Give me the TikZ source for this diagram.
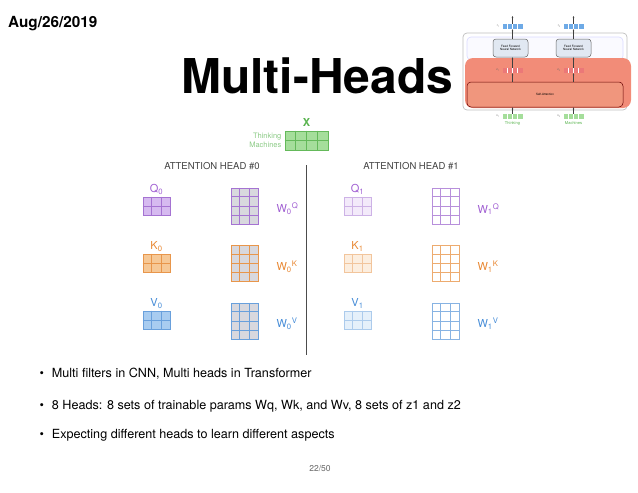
\documentclass[tikz,border=0pt]{standalone}
\usepackage{fontspec}
\setmainfont{TeX Gyre Heros}
\usetikzlibrary{arrows.meta,positioning,calc}

\definecolor{qline}{RGB}{165,115,210}
\definecolor{qfill}{RGB}{214,186,240}
\definecolor{qtext}{RGB}{160,95,210}
\definecolor{kline}{RGB}{232,150,75}
\definecolor{kfill}{RGB}{246,200,150}
\definecolor{ktext}{RGB}{232,135,50}
\definecolor{vline}{RGB}{105,160,220}
\definecolor{vfill}{RGB}{168,204,240}
\definecolor{vtext}{RGB}{70,140,215}
\definecolor{xline}{RGB}{100,185,90}
\definecolor{xfill}{RGB}{165,222,155}
\definecolor{xtext}{RGB}{90,180,80}
\definecolor{wfill}{RGB}{216,216,222}
\definecolor{rblue}{RGB}{110,170,230}
\definecolor{zpink}{RGB}{235,120,120}
\definecolor{redzone}{RGB}{242,140,120}
\definecolor{sabox}{RGB}{240,150,125}
\definecolor{ffnbox}{RGB}{225,232,242}

% inner lines of a matrix node: name, columns, rows, line style
\newcommand{\cellgrid}[4]{%
  \foreach \i in {1,...,#2}{\ifnum\i<#2
    \draw[#4] ($(#1.north west)!\i/#2!(#1.north east)$) -- ($(#1.south west)!\i/#2!(#1.south east)$);\fi}
  \foreach \j in {1,...,#3}{\ifnum\j<#3
    \draw[#4] ($(#1.north west)!\j/#3!(#1.south west)$) -- ($(#1.north east)!\j/#3!(#1.south east)$);\fi}
}

\begin{document}
\begin{tikzpicture}[
  x=1pt, y=-1pt,
  mat/.style={rectangle, inner sep=0pt, line width=0.8pt, minimum width=27pt},
  small/.style={mat, minimum height=18pt},
  big/.style={mat, minimum height=36pt},
  lab/.style={inner sep=1pt, font=\fontsize{11}{12}\selectfont},
  headtitle/.style={font=\fontsize{9.5}{10}\selectfont, text=black!75},
  vec/.style={rectangle, inner sep=0pt, minimum width=20pt, minimum height=5pt},
  tinylab/.style={inner sep=0.5pt, font=\fontsize{3}{3}\selectfont, text=black!60},
  tarrow/.style={-{Stealth[length=2pt, width=1.6pt]}, line width=0.4pt, black!75},
  bullet/.style={anchor=base west, font=\fontsize{12.6}{14}\selectfont},
]
  \useasboundingbox (0,0) rectangle (638,493);

  \node[anchor=base west, inner sep=0pt, font=\fontsize{15.3}{16}\selectfont\bfseries] (date) at (8,27) {Aug/26/2019};
  \node[anchor=base west, inner sep=0pt, font=\fontsize{48}{48}\selectfont\bfseries] (title) at (181,93) {Multi-Heads};

  % encoder thumbnail
  \draw[black!25, line width=0.7pt, rounded corners=4pt] (463,33) rectangle (627,110);
  \draw[blue!15, fill=blue!2, line width=0.6pt, rounded corners=4pt] (467,37) rectangle (623,60);
  \fill[redzone, rounded corners=8pt] (465,58) rectangle (631,108);
  \node[rectangle, rounded corners=4pt, draw=red!40!black, fill=sabox, line width=0.5pt,
        minimum width=156pt, minimum height=25pt, font=\fontsize{3}{3}\selectfont] (sa) at (545,94.5) {Self-Attention};
  \node[rectangle, rounded corners=3pt, draw=black!60, fill=ffnbox, line width=0.5pt, align=center,
        minimum width=35pt, minimum height=18pt, font=\fontsize{3}{3.5}\selectfont] (ffn1) at (510.5,48) {Feed Forward\\Neural Network};
  \node[rectangle, rounded corners=3pt, draw=black!60, fill=ffnbox, line width=0.5pt, align=center,
        minimum width=35pt, minimum height=18pt, font=\fontsize{3}{3.5}\selectfont] (ffn2) at (573.5,48) {Feed Forward\\Neural Network};

  \node[vec, fill=rblue] (r1) at (512.5,26.5) {};
  \node[vec, fill=rblue] (r2) at (573.5,26.5) {};
  \node[vec, fill=zpink] (z1) at (512.5,70.5) {};
  \node[vec, fill=zpink] (z2) at (573.5,70.5) {};
  \node[vec, fill=xfill] (x1) at (512.5,116.5) {};
  \node[vec, fill=xfill] (x2) at (573.5,116.5) {};
  \foreach \v in {r1,r2,z1,z2,x1,x2} {\cellgrid{\v}{4}{1}{white, line width=0.3pt}}

  \node[tinylab, left=2pt of r1] (r1lab) {r\textsubscript{1}};
  \node[tinylab, left=2pt of r2] (r2lab) {r\textsubscript{2}};
  \node[tinylab, left=2pt of z1] (z1lab) {z\textsubscript{1}};
  \node[tinylab, left=2pt of z2] (z2lab) {z\textsubscript{2}};
  \node[tinylab, left=2pt of x1] (x1lab) {x\textsubscript{1}};
  \node[tinylab, left=2pt of x2] (x2lab) {x\textsubscript{2}};
  \node[inner sep=0.5pt, below=2pt of x1, font=\fontsize{4}{4}\selectfont, text=xtext] (think) {Thinking};
  \node[inner sep=0.5pt, below=2pt of x2, font=\fontsize{4}{4}\selectfont, text=xtext] (mach) {Machines};

  \coordinate (r1top) at (512.5,16);
  \coordinate (r2top) at (573.5,16);
  \draw[tarrow] (x1.north) -- (x1 |- sa.south);
  \draw[tarrow] (x2.north) -- (x2 |- sa.south);
  \draw[tarrow] (z1 |- sa.north) -- (z1.south);
  \draw[tarrow] (z2 |- sa.north) -- (z2.south);
  \draw[tarrow] (z1.north) -- (z1 |- ffn1.south);
  \draw[tarrow] (z2.north) -- (z2 |- ffn2.south);
  \draw[tarrow] (r1 |- ffn1.north) -- (r1.south);
  \draw[tarrow] (r2 |- ffn2.north) -- (r2.south);
  \draw[tarrow] (r1.north) -- (r1top);
  \draw[tarrow] (r2.north) -- (r2top);

  % input X
  \node[mat, draw=xline, fill=xfill, minimum width=43pt, minimum height=19pt] (xin) at (306.5,140.5) {};
  \cellgrid{xin}{4}{2}{xline}
  \node[lab, text=xtext, font=\fontsize{11}{12}\selectfont\bfseries, above=3pt of xin] (xlab) {X};
  \node[left=3pt of xin, inner sep=0pt, align=right, text=xtext!70, font=\fontsize{7.5}{9.5}\selectfont] (words) {Thinking\\Machines};

  % head #0
  \node[headtitle] (head0) at (212,166) {ATTENTION HEAD \#0};
  \node[small, draw=qline, fill=qfill] (q0) at (156.5,206) {};
  \node[small, draw=kline, fill=kfill] (k0) at (156.5,263) {};
  \node[small, draw=vline, fill=vfill] (v0) at (156.5,320) {};
  \node[big, draw=qline, fill=wfill] (w0q) at (244.5,206) {};
  \node[big, draw=kline, fill=wfill] (w0k) at (244.5,263.5) {};
  \node[big, draw=vline, fill=wfill] (w0v) at (244.5,321) {};
  \cellgrid{q0}{3}{2}{qline, line width=0.8pt}
  \cellgrid{k0}{3}{2}{kline, line width=0.8pt}
  \cellgrid{v0}{3}{2}{vline, line width=0.8pt}
  \cellgrid{w0q}{3}{4}{qline, line width=0.8pt}
  \cellgrid{w0k}{3}{4}{kline, line width=0.8pt}
  \cellgrid{w0v}{3}{4}{vline, line width=0.8pt}
  \node[lab, text=qtext, above=1pt of q0] (q0lab) {Q\textsubscript{0}};
  \node[lab, text=ktext, above=1pt of k0] (k0lab) {K\textsubscript{0}};
  \node[lab, text=vtext, above=1pt of v0] (v0lab) {V\textsubscript{0}};
  \node[lab, text=qtext, right=17pt of w0q, yshift=-3pt] (w0qlab) {W\textsubscript{0}\textsuperscript{Q}};
  \node[lab, text=ktext, right=17pt of w0k, yshift=-3pt] (w0klab) {W\textsubscript{0}\textsuperscript{K}};
  \node[lab, text=vtext, right=17pt of w0v, yshift=-3pt] (w0vlab) {W\textsubscript{0}\textsuperscript{V}};

  \coordinate (divtop) at (306,165);
  \coordinate (divbot) at (306,355);
  \draw[black!70, line width=0.8pt] (divtop) -- (divbot);

  % head #1
  \node[headtitle] (head1) at (411,166) {ATTENTION HEAD \#1};
  \node[small, draw=qline!55, fill=qfill!30] (q1) at (357.5,206) {};
  \node[small, draw=kline!55, fill=kfill!30] (k1) at (357.5,263) {};
  \node[small, draw=vline!55, fill=vfill!30] (v1) at (357.5,320) {};
  \node[big, draw=qline!80, fill=white] (w1q) at (445.5,206) {};
  \node[big, draw=kline!80, fill=white] (w1k) at (445.5,263.5) {};
  \node[big, draw=vline!80, fill=white] (w1v) at (445.5,321) {};
  \cellgrid{q1}{3}{2}{qline!55, line width=0.8pt}
  \cellgrid{k1}{3}{2}{kline!55, line width=0.8pt}
  \cellgrid{v1}{3}{2}{vline!55, line width=0.8pt}
  \cellgrid{w1q}{3}{4}{qline!80, line width=0.8pt}
  \cellgrid{w1k}{3}{4}{kline!80, line width=0.8pt}
  \cellgrid{w1v}{3}{4}{vline!80, line width=0.8pt}
  \node[lab, text=qtext, above=1pt of q1] (q1lab) {Q\textsubscript{1}};
  \node[lab, text=ktext, above=1pt of k1] (k1lab) {K\textsubscript{1}};
  \node[lab, text=vtext, above=1pt of v1] (v1lab) {V\textsubscript{1}};
  \node[lab, text=qtext, right=17pt of w1q, yshift=-3pt] (w1qlab) {W\textsubscript{1}\textsuperscript{Q}};
  \node[lab, text=ktext, right=17pt of w1k, yshift=-3pt] (w1klab) {W\textsubscript{1}\textsuperscript{K}};
  \node[lab, text=vtext, right=17pt of w1v, yshift=-3pt] (w1vlab) {W\textsubscript{1}\textsuperscript{V}};

  % bullets
  \node[bullet] (item1) at (36,377) {\textbullet\hspace{8pt}Multi filters in CNN, Multi heads in Transformer};
  \node[bullet] (item2) at (36,409) {\textbullet\hspace{8pt}8 Heads: 8 sets of trainable params Wq, Wk, and Wv, 8 sets of z1 and z2};
  \node[bullet] (item3) at (36,438) {\textbullet\hspace{8pt}Expecting different heads to learn different aspects};

  \node[font=\fontsize{8.5}{9}\selectfont, text=black!60] (page) at (320,468) {22/50};
\end{tikzpicture}
\end{document}
